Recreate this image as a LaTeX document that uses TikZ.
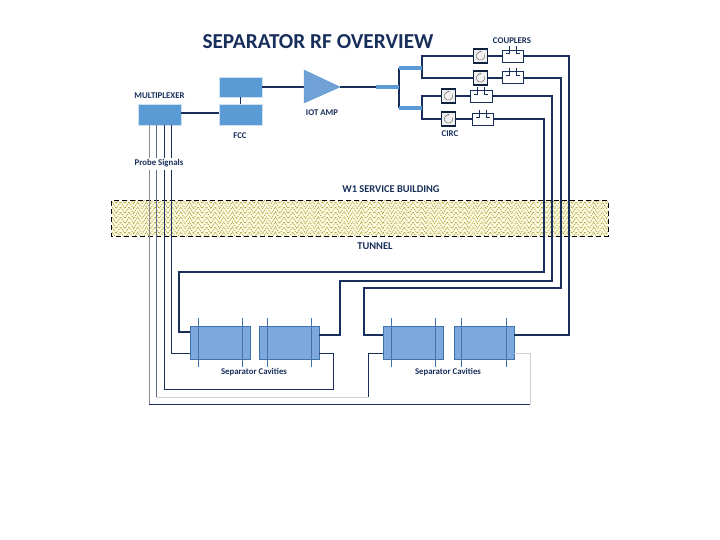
\documentclass[tikz,border=0pt]{standalone}
\usepackage{fontspec}
\setmainfont{Carlito}
\usetikzlibrary{positioning,calc,arrows.meta}
\definecolor{navyline}{HTML}{172F5A}
\definecolor{boxblue}{HTML}{5B9BD5}
\definecolor{cavblue}{HTML}{7CA8DC}
\definecolor{ampblue}{HTML}{6FA0D6}
\definecolor{tickblue}{HTML}{3F73AE}
\definecolor{bandolive}{HTML}{B0A040}
\tikzset{blockbox/.style={rectangle,fill=boxblue,draw=white!70!boxblue,line width=.4pt,inner sep=0pt,outer sep=0pt},
		cavity/.style={rectangle,fill=cavblue,draw=tickblue,line width=.5pt,minimum width=60pt,minimum height=33pt,inner sep=0pt,outer sep=0pt},
		circbox/.style={rectangle,fill=black!6,draw=navyline!70!black,line width=1.3pt,minimum size=14pt,inner sep=0pt,outer sep=0pt},
		couplerbox/.style={rectangle,fill=white,draw=navyline,line width=1pt,minimum width=21pt,minimum height=12pt,inner sep=0pt,outer sep=0pt},
		lbl/.style={font=\fontsize{8.8}{10}\selectfont\bfseries,text=navyline,inner sep=0pt},
		feed/.style={draw=navyline,line width=1.5pt},
		feedT/.style={draw=navyline,line width=1.6pt},
		probe/.style={draw=navyline,line width=.7pt},
		probeG/.style={draw=black!18,line width=1pt},
		splitbar/.style={draw=boxblue,line width=3.4pt},
		cavtick/.style={draw=tickblue,line width=.7pt},
		bandedge/.style={draw=black,line width=.9pt,dash pattern=on 5pt off 3pt},
		chevron/.style={draw=bandolive,line width=.9pt,dash pattern=on 1pt off 1pt}}
\begin{document}
\begin{tikzpicture}[x=1pt,y=-1pt]
\useasboundingbox (0,0) rectangle (720,540);
% band between the building and the tunnel
\node[rectangle,fill=yellow!10,inner sep=0pt,minimum width=496pt,minimum height=35pt] (band) at (360,218.5) {};
\begin{scope}
	\clip (band.north west) rectangle (band.south east);
	\foreach \r in {0,...,8} {
		\draw[chevron] (112,192+5*\r)
			\foreach \k in {0,...,57} { -- ++(4.3,6.5) -- ++(4.3,-6.5) };
	}
\end{scope}
\draw[bandedge] (band.north west) rectangle (band.south east);

% blocks up top
\node[blockbox,minimum width=43pt,minimum height=21pt] (mux) at (159.5,114.5) {};
\node[blockbox,minimum width=43pt,minimum height=20pt] (fccTop) at (240.5,87) {};
\node[blockbox,minimum width=43pt,minimum height=21pt] (fccBot) at (240.5,114.5) {};
\coordinate (ampIn) at (304,87);
\coordinate (ampOut) at (340,87);
\coordinate (splitIn) at (376,87);
\coordinate (splitMid) at (399,87);
\coordinate (splitUp) at (399,68);
\coordinate (splitDn) at (399,108);
\coordinate (armUp) at (422,68);
\coordinate (armDn) at (422,108);

\draw[feed] (mux.east |- 0,113) -- (fccBot.west |- 0,113);
\draw[feed] (fccTop.south) -- (fccBot.north);
\draw[feed] (fccTop.east |- ampIn) -- (ampIn);
\draw[feed] (ampOut) -- (splitIn);
\draw[feed] (splitUp) -- (splitDn);
\fill[fill=ampblue,draw=boxblue] (ampIn |- 0,70) -- (ampOut) -- (ampIn |- 0,103) -- cycle;

% circulators and couplers
\foreach \nm/\cx/\cy/\kx/\ky/\kw in {A/480.5/56/512.5/56.5/21,B/480.5/78/512.5/78/21,C/448.5/96/481/97/22,D/448.5/119/482.5/120/21} {
	\draw[feed] (\cx,\cy) -- (\kx,\cy);
	\node[circbox] (circ\nm) at (\cx,\cy) {};
	\node[couplerbox,minimum width=\kw pt] (coup\nm) at (\kx,\ky) {};
	\draw[black!55,line width=.6pt,-{Stealth[length=2.2pt]}] ($(circ\nm)+(-20:4.2)$) arc[start angle=-20,end angle=285,radius=4.2];
	\foreach \d in {-1,1} {
		\draw[navyline,line width=.9pt] ($(coup\nm.north)+(\d*3.5,-4)$) -- ($(coup\nm.north)+(\d*3.5,3)$) -- ($(coup\nm.north)+(\d*7,3)$);
	}
}
\coordinate (busUp) at (422,56);
\coordinate (busUpB) at (422,78);
\coordinate (busDn) at (422,96);
\coordinate (busDnB) at (422,119);
\draw[feed] (circA.west) -- (busUp) -- (busUpB) -- (circB.west);
\draw[feed] (circC.west) -- (busDn) -- (busDnB) -- (circD.west);
\draw[splitbar] (splitIn) -- (splitMid);
\draw[splitbar] (splitUp) -- (armUp);
\draw[splitbar] (splitDn) -- (armDn);

% cavities
\node[cavity] (cavA) at (220,342.5) {};
\node[cavity] (cavB) at (289,342.5) {};
\node[cavity] (cavC) at (413,342.5) {};
\node[cavity] (cavD) at (484,342.5) {};
\foreach \c/\tl/\tr in {cavA/-22/22,cavB/-22/22,cavC/-22/22,cavD/-23/22} {
	\draw[cavtick] ($(\c.north)+(\tl,-8)$) -- ($(\c.south)+(\tl,8)$);
	\draw[cavtick] ($(\c.north)+(\tr,-8)$) -- ($(\c.south)+(\tr,8)$);
}

% feeds down to the cavities
\draw[feedT] (coupD.east |- circD) -| (544,272) -| (179,332) -- (cavA.west |- 0,332);
\draw[feedT] (coupC.east |- circC) -| (552,281) -| (340,335) -- (cavB.east |- 0,335);
\draw[feedT] (coupB.east |- circB) -| (561,288) -| (364,335) -- (cavC.west |- 0,335);
\draw[feedT] (coupA.east |- circA) -| (569,335) -- (cavD.east |- 0,335);

% probe lines
\draw[probe] (mux.south -| 171,0) -- (171,158) (171,170) |- (cavA.west |- 0,353);
\draw[probe] (mux.south -| 164,0) -- (164,158) (164,170) |- (333,389) |- (cavB.east |- 0,353);
\draw[probe,draw=navyline!70] (mux.south -| 156,0) -- (156,158) (156,170) -- (156,397);
\draw[probeG] (156,397) -- (368,397);
\draw[probe] (368,397) |- (cavC.west |- 0,353);
\draw[probe,draw=black!45] (mux.south -| 149,0) -- (149,158) (149,170) -- (149,404);
\draw[probe] (149,404) -- (530,404);
\draw[probeG] (530,404) |- (cavD.east |- 0,353);

% labels
\node[font=\fontsize{21.3}{24}\selectfont\bfseries,text=navyline,inner sep=0pt] (title) at (318,41.5) {SEPARATOR RF OVERVIEW};
\node[lbl] (lblMux) at (159.5,96) {MULTIPLEXER};
\node[lbl] (lblFcc) at (240,136) {FCC};
\node[lbl] (lblAmp) at (322,113) {IOT AMP};
\node[lbl] (lblProbe) at (159,163) {Probe Signals};
\node[lbl] (lblCoup) at (512,41) {COUPLERS};
\node[lbl] (lblCirc) at (450,134) {CIRC};
\node[lbl,font=\fontsize{10.4}{12}\selectfont\bfseries] (lblBuild) at (391,189) {W1 SERVICE BUILDING};
\node[lbl,font=\fontsize{10.4}{12}\selectfont\bfseries] (lblTunnel) at (375,246) {TUNNEL};
\node[lbl] (lblCavA) at (254,372) {Separator Cavities};
\node[lbl] (lblCavB) at (448,372) {Separator Cavities};
\end{tikzpicture}
\end{document}
